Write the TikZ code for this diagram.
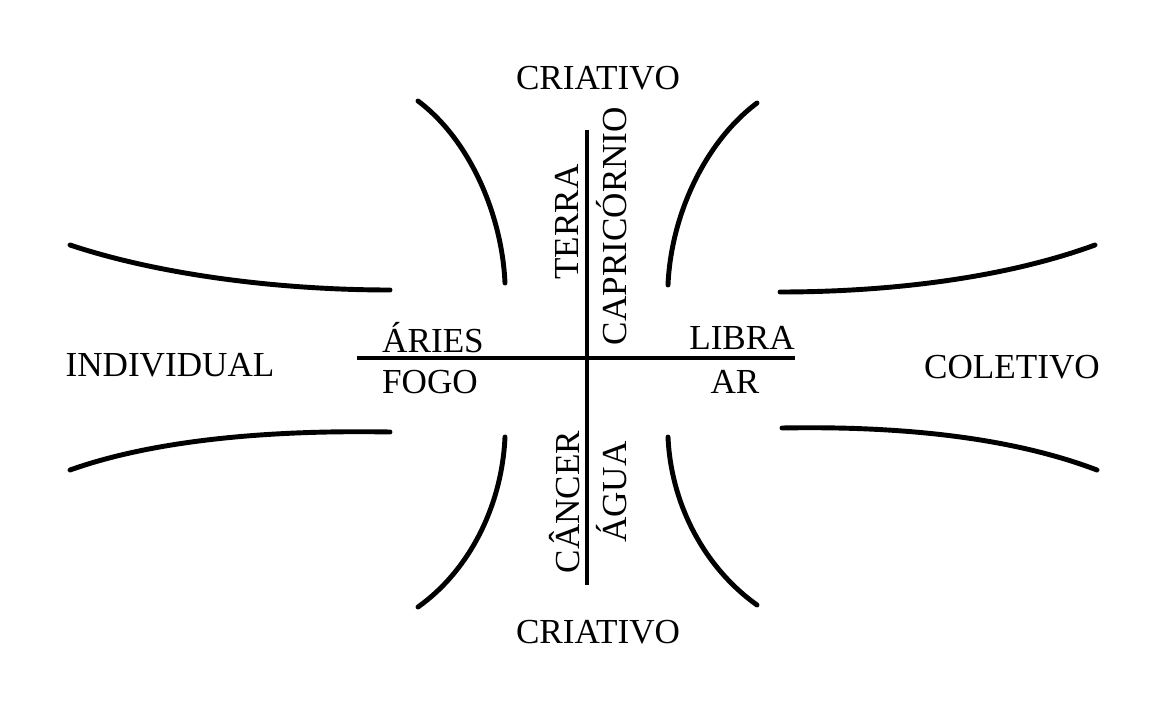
\documentclass[tikz,border=0pt]{standalone}
\usepackage{fontspec}
\setmainfont{Liberation Serif}
\begin{document}
\begin{tikzpicture}[x=0.02cm,y=-0.02cm,
  arc/.style={line width=2.8pt,line cap=round},
  axis/.style={line width=2.2pt},
  lbl/.style={font=\fontsize{20}{24}\selectfont,inner sep=0pt}]
\useasboundingbox (0,0) rectangle (1164,710);
\coordinate (vt) at (587,130); \coordinate (vb) at (587,585);
\coordinate (hl) at (357,358); \coordinate (hr) at (795,358);
\draw[axis] (vt) -- (vb);
\draw[axis] (hl) -- (hr);
\coordinate (a1) at (418,101); \coordinate (a2) at (505,283);
\coordinate (b1) at (757,103); \coordinate (b2) at (668,285);
\coordinate (c1) at (505,437); \coordinate (c2) at (418,607);
\coordinate (d1) at (668,437); \coordinate (d2) at (757,605);
\coordinate (e1) at (70,245); \coordinate (e2) at (390,290);
\coordinate (f1) at (70,470); \coordinate (f2) at (390,432);
\coordinate (g1) at (1095,245); \coordinate (g2) at (780,292);
\coordinate (h1) at (1097,470); \coordinate (h2) at (782,428);
\draw[arc] (a1) .. controls (470,140) and (502,215) .. (a2);
\draw[arc] (b1) .. controls (705,142) and (671,215) .. (b2);
\draw[arc] (c1) .. controls (502,505) and (470,570) .. (c2);
\draw[arc] (d1) .. controls (671,505) and (705,568) .. (d2);
\draw[arc] (e1) .. controls (160,275) and (280,290) .. (e2);
\draw[arc] (f1) .. controls (160,438) and (280,430) .. (f2);
\draw[arc] (g1) .. controls (1005,278) and (890,292) .. (g2);
\draw[arc] (h1) .. controls (1005,435) and (890,426) .. (h2);
\node[lbl] (t1) at (598,78) {CRIATIVO};
\node[lbl] (t2) at (598,632) {CRIATIVO};
\node[lbl] (t3) at (170,365) {INDIVIDUAL};
\node[lbl] (t4) at (1012,367) {COLETIVO};
\node[lbl] (t5) at (433,338) {ÁRIES};
\node[lbl] (t6) at (430,382) {FOGO};
\node[lbl] (t7) at (742,338) {LIBRA};
\node[lbl] (t8) at (735,382) {AR};
\node[lbl,rotate=90] (t9) at (567,222) {TERRA};
\node[lbl,rotate=90] (t10) at (612,226) {CAPRICÓRNIO};
\node[lbl,rotate=90] (t11) at (565,502) {CÂNCER};
\node[lbl,rotate=90] (t12) at (612,492) {ÁGUA};
\end{tikzpicture}
\end{document}
